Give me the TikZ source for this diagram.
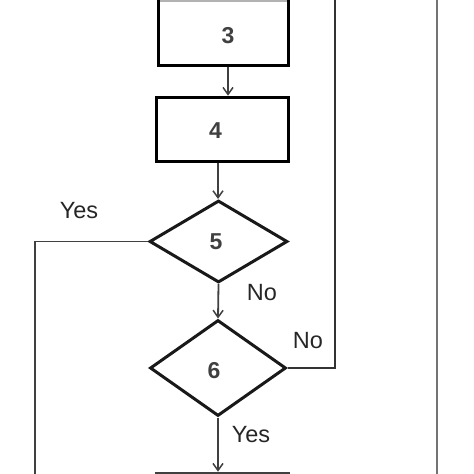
\documentclass[tikz,border=0pt]{standalone}
\usepackage{fontspec}
\setmainfont{Liberation Sans}
\usetikzlibrary{shapes.geometric,arrows.meta,calc}
\begin{document}
\begin{tikzpicture}[x=1pt,y=-1pt,
  box/.style={draw=black,line width=3.6pt,rectangle,inner sep=0pt},
  dec/.style={draw=black!90,line width=3pt,diamond,inner sep=0pt},
  conn/.style={draw=black!75,line width=1.8pt},
  arr/.style={conn,-{Straight Barb[length=7pt,width=10pt,line width=1.5pt]}},
  lab/.style={font=\fontsize{23.5}{26}\selectfont,inner sep=0pt,text=black!85},
  num/.style={font=\fontsize{23}{26}\selectfont\bfseries,inner sep=0pt,text=black!75}]
\useasboundingbox (0,0) rectangle (474,474);
\clip (0,0) rectangle (474,474);
% boxes
\node[box,minimum width=130pt,minimum height=85.5pt,
  label={[num,xshift=4.5pt,yshift=-13pt]center:3}] (b3) at (223.5,22.75) {};
\fill[black!30] (160,0) rectangle (287,2);
\node[box,minimum width=132pt,minimum height=64pt,
  label={[num,xshift=-7pt,yshift=-1.5pt]center:4}] (b4) at (222.5,129.5) {};
\node[dec,minimum width=138pt,minimum height=82pt,
  label={[num,xshift=-2.5pt,yshift=-0.5pt]center:5}] (d5) at (218.5,241.5) {};
\node[dec,minimum width=136pt,minimum height=96pt,
  label={[num,xshift=-4pt,yshift=-3pt]center:6}] (d6) at (218,368) {};
\node[box,draw=black!75,minimum width=132pt,minimum height=33pt] (b7) at (222.5,490) {};
% helper coordinates
\coordinate (x3) at (228,0);
\coordinate (x5) at (218,0);
\coordinate (yl) at (35,490);
\coordinate (nr) at (335,-10);
\coordinate (rt) at (437,-10);
\coordinate (rb) at (437,490);
% connectors
\draw[arr] (b3.south -| x3) -- (b4.north -| x3);
\draw[arr] (b4.south -| x5) -- (d5.north -| x5);
\draw[arr] (d5.south) -- (d6.north);
\draw[arr] (d6.south) -- (b7.north -| d6.south);
\draw[conn] (d5.west) -| (yl);
\draw[conn,draw=black!80,line width=2.2pt] (d6.east) -| (nr);
\draw[conn,draw=black!55,line width=2.8pt] (rt) -- (rb);
% labels
\node[lab] (ly1) at (79,211) {Yes};
\node[lab] (ln1) at (262,293) {No};
\node[lab] (ln2) at (308,341) {No};
\node[lab] (ly2) at (251,435) {Yes};
\end{tikzpicture}
\end{document}
